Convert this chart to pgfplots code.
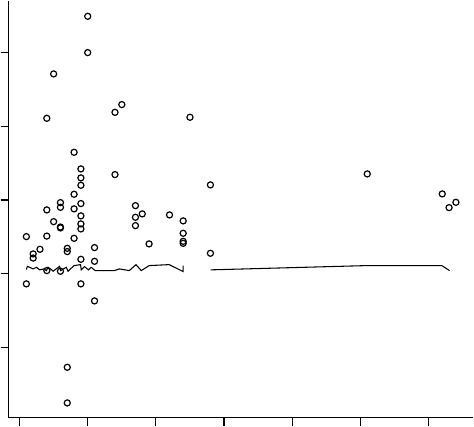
\documentclass[border=0pt]{standalone}
\usepackage{pgfplots}
\pgfplotsset{compat=1.18}
\begin{document}
\begin{tikzpicture}
\begin{axis}[
  scale only axis,
  width=350.25pt, height=314.2pt,
  xmin=-0.161, xmax=6.657,
  ymin=-0.949, ymax=4.705,
  axis x line*=bottom, axis y line*=left,
  axis line style={line width=0.9pt, -},
  xtick={0,1,2,3,4,5,6}, ytick={0,1,2,3,4},
  xticklabels={}, yticklabels={},
  xticklabel style={overlay}, yticklabel style={overlay},
  tick align=outside,
  major tick length=6pt,
  tick style={line width=0.9pt, black},
  unbounded coords=jump,
]
\addplot[only marks, mark=o, mark size=2.3pt, mark options={line width=0.9pt, black}] table {
x y
1.0 4.492
1.0 4.000
0.5 3.711
0.4 3.109
1.5 3.295
1.4 3.190
2.5 3.123
0.8 2.648
0.9 2.423
0.9 2.301
0.9 2.201
0.8 2.079
1.4 2.346
2.8 2.206
5.1 2.355
6.2 2.084
6.3 1.898
6.4 1.970
0.4 1.867
0.6 1.966
0.6 1.902
0.8 1.881
0.9 1.953
0.9 1.786
0.5 1.708
0.6 1.623
0.6 1.635
0.9 1.677
0.9 1.609
0.8 1.482
0.4 1.512
0.1 1.505
0.3 1.333
0.2 1.270
0.2 1.214
0.7 1.346
0.7 1.302
1.1 1.356
1.1 1.170
0.9 1.197
0.4 1.044
0.6 1.035
0.1 0.864
0.9 0.864
1.1 0.633
0.7 -0.267
0.7 -0.750
1.7 1.925
1.7 1.767
1.8 1.813
1.7 1.654
1.9 1.406
2.2 1.799
2.4 1.718
2.4 1.550
2.4 1.441
2.4 1.414
2.8 1.279
};
\addplot[black, line width=0.8pt] table {
x y
0.100 1.058
0.115 1.102
0.200 1.067
0.248 1.089
0.296 1.054
0.360 1.067
0.394 1.044
0.419 1.089
0.467 1.058
0.492 1.035
0.588 1.102
0.603 1.044
0.686 1.089
0.711 1.035
0.800 1.112
0.895 1.125
0.905 1.054
0.953 1.098
1.012 1.054
1.051 1.089
1.109 1.044
1.391 1.044
1.464 1.067
1.610 1.044
1.708 1.125
1.785 1.044
1.902 1.112
2.194 1.125
2.400 1.031
2.400 1.112
nan nan
2.803 1.054
5.095 1.112
6.194 1.112
6.307 1.044
};
\end{axis}
\end{tikzpicture}
\end{document}
